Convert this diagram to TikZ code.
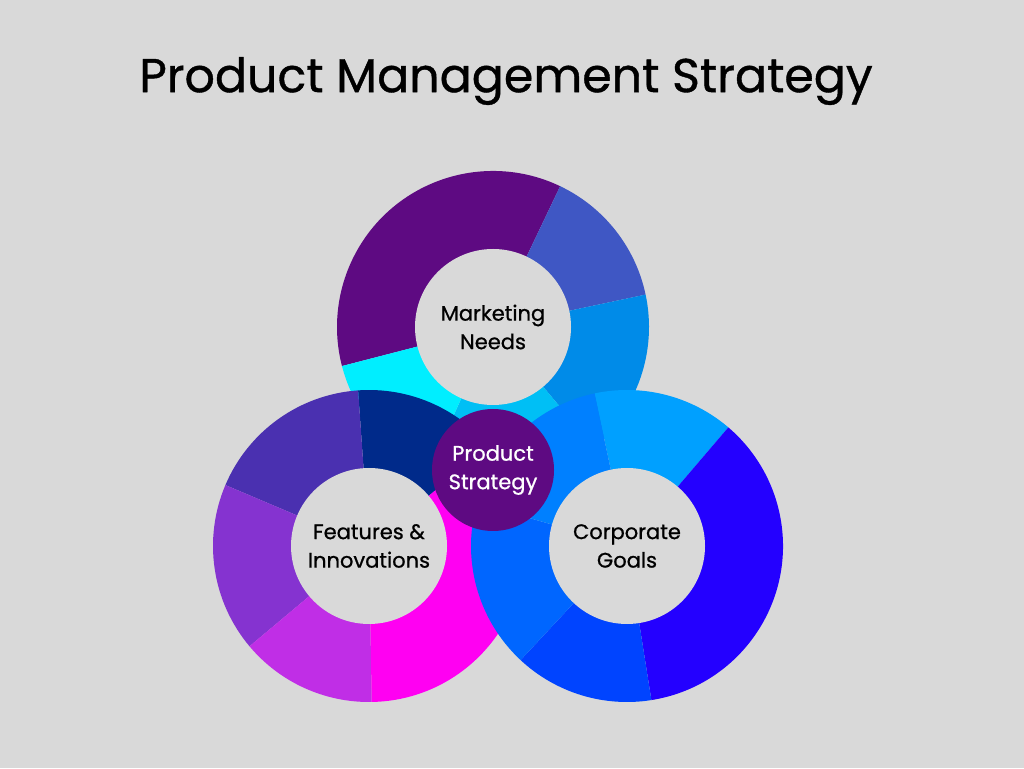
\documentclass[tikz,border=0pt]{standalone}
\usepackage{fontspec}
\setmainfont{Poppins}[FakeBold=0.8]
\definecolor{bgGray}{HTML}{D9D9D9}
\definecolor{plum}{HTML}{5E0A82}
\definecolor{slate}{HTML}{3F57C4}
\definecolor{ocean}{HTML}{008BE8}
\definecolor{sky}{HTML}{00BFF5}
\definecolor{aqua}{HTML}{00EEFF}
\definecolor{navy}{HTML}{002A8A}
\definecolor{indigo}{HTML}{4A30B0}
\definecolor{violet}{HTML}{8533D0}
\definecolor{orchid}{HTML}{C02EE6}
\definecolor{pink}{HTML}{FF00F2}
\definecolor{azure}{HTML}{00A0FF}
\definecolor{ultra}{HTML}{2400FF}
\definecolor{royal}{HTML}{0044FF}
\definecolor{cobalt}{HTML}{0066FF}
\definecolor{dodger}{HTML}{0080FF}

\begin{document}
\begin{tikzpicture}[x=1pt,y=1pt]
	\fill[bgGray] (0,0) rectangle (1024,768);
	\node (title) at (506,687) {\fontsize{47.5}{52}\selectfont Product Management Strategy};

	\coordinate (mkt) at (493,441);
	\coordinate (feat) at (369,222);
	\coordinate (corp) at (627,222);

	\begin{scope}[every node/.style={circle,fill=bgGray,minimum size=156pt,inner sep=0pt,
		align=center,font=\fontsize{21}{28.5}\selectfont}]
		\foreach \a/\b/\c in {64.5/194.5/plum,12/64.5/slate,-50/12/ocean,-114/-50/sky,-165.5/-114/aqua}
			\fill[\c] (mkt) -- ++(\a:156pt) arc[start angle=\a,end angle=\b,radius=156pt] -- cycle;
		\node (mktHub) at (mkt) {Marketing\\Needs};

		\foreach \a/\b/\c in {40/94/navy,94/157/indigo,157/220/violet,220/271/orchid,-89/40/pink}
			\fill[\c] (feat) -- ++(\a:156pt) arc[start angle=\a,end angle=\b,radius=156pt] -- cycle;
		\node (featHub) at (feat) {Features \&\\Innovations};

		\foreach \a/\b/\c in {49.5/102/azure,-81/49.5/ultra,-133/-81/royal,164/227/cobalt,102/164/dodger}
			\fill[\c] (corp) -- ++(\a:156pt) arc[start angle=\a,end angle=\b,radius=156pt] -- cycle;
		\node (corpHub) at (corp) {Corporate\\Goals};
	\end{scope}

	\node[circle,fill=plum,minimum size=122pt,inner sep=0pt,align=center,text=white,
		font=\fontsize{21}{28.5}\selectfont] (strategy) at (493,298) {Product\\Strategy};
\end{tikzpicture}
\end{document}
